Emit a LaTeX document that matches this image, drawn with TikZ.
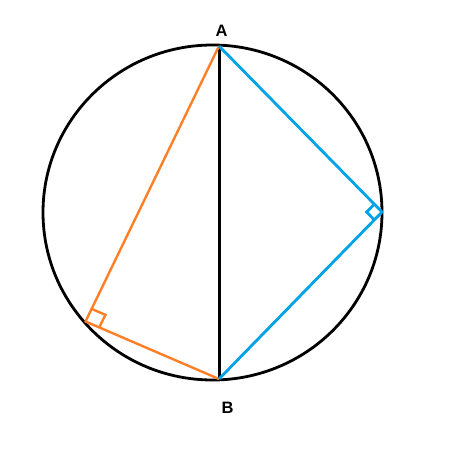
\documentclass[tikz,border=0pt]{standalone}
\usepackage{fontspec}
\setmainfont{Liberation Sans}
\usetikzlibrary{calc}
\begin{document}
\begin{tikzpicture}[x=1pt,y=-1pt,
  circ/.style={draw=black,line width=2.8pt},
  diam/.style={draw=black,line width=3pt},
  orangeline/.style={draw=orangec,line width=2.4pt},
  blueline/.style={draw=bluec,line width=2.8pt},
  lbl/.style={font=\fontsize{16.5}{16.5}\selectfont\bfseries,inner sep=0pt}]
\definecolor{orangec}{HTML}{FF7F27}
\definecolor{bluec}{HTML}{00A2E8}
\useasboundingbox[fill=white] (0,0) rectangle (450,450);
\coordinate (O) at (212.5,212.5);
\coordinate (A) at (219,46);
\coordinate (B) at (219,379);
\coordinate (C) at (382,212);
\coordinate (D) at (85.5,321.5);
\draw[circ] (O) ellipse [x radius=169.5, y radius=167.5];
\draw[diam] (A) -- (B);
\draw[orangeline,line join=round] (A) -- (D) -- (B);
\draw[blueline,line join=round] (A) -- (C) -- (B);
% right angle markers
\coordinate (c1) at ($(C)!11pt!(A)$);
\coordinate (c3) at ($(C)!11pt!(B)$);
\coordinate (c2) at ($(c1)+(c3)-(C)$);
\draw[blueline] (c1) -- (c2) -- (c3);
\coordinate (d1) at ($(D)!14pt!(A)$);
\coordinate (d3) at ($(D)!15pt!(B)$);
\coordinate (d2) at ($(d1)+(d3)-(D)$);
\draw[orangeline] (d1) -- (d2) -- (d3);
\node[lbl] (la) at (221.5,30.5) {A};
\node[lbl] (lb) at (227.5,408) {B};
\end{tikzpicture}
\end{document}
